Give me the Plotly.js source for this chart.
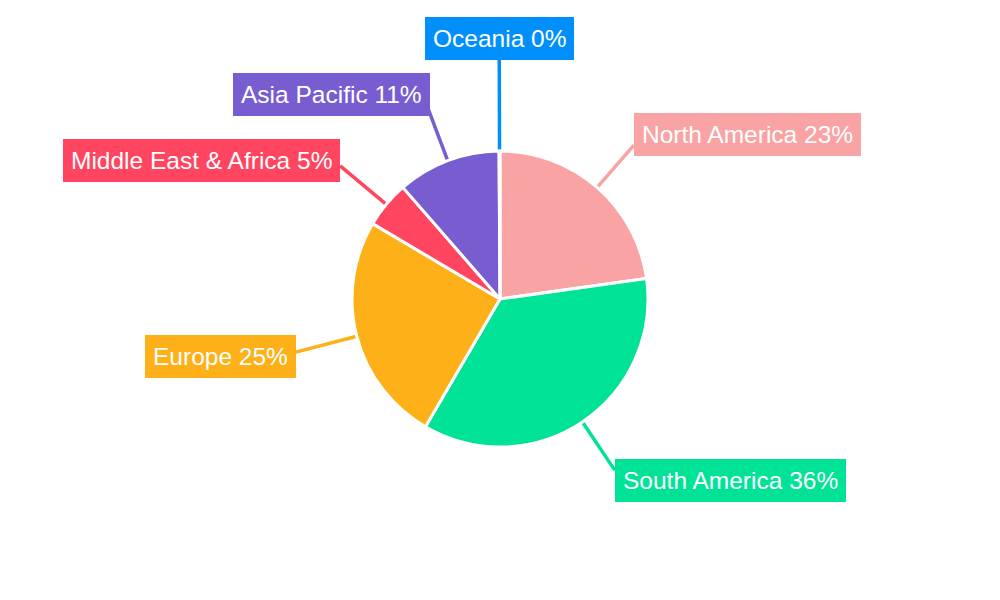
<!DOCTYPE html>
<html>
<head>
<meta charset="utf-8">
<script src="https://cdn.plot.ly/plotly-3.0.1.min.js"></script>
<style>html,body{margin:0;padding:0;background:#fff;}#chart{width:1000px;height:600px;}</style>
</head>
<body>
<div id="chart"></div>
<script>
// ---- data ----
var regions = ["North America", "South America", "Europe", "Middle East & Africa", "Asia Pacific", "Oceania"];
var shares = [22.8, 35.6, 25.1, 5.1, 11.3, 0.1];
var colors = ["#F9A3A4", "#00E396", "#FEB019", "#FF4560", "#775DD0", "#008FFB"];

// ---- label layout (pixels) ----
var lineLen = [56, 58, 63, 60, 60, 91];
var boxShiftX = [0, 0, 0, 0, 4, 0];
var boxShiftY = [-11, 10, 4, -5, -10, 0];

var W = 1000, H = 600, M = {t: 151, b: 153, l: 0, r: 0};
var plotH = H - M.t - M.b, plotW = W - M.l - M.r;
var cx = M.l + plotW / 2, cy = M.t + plotH / 2, R = Math.min(plotW, plotH) / 2;
function px2x(px) { return (px - M.l) / plotW; }
function py2y(py) { return (M.t + plotH - py) / plotH; }

var total = shares.reduce(function (a, b) { return a + b; }, 0);
var annotations = [], shapes = [];
var cum = 0;
for (var i = 0; i < regions.length; i++) {
  var mid = (cum + shares[i] / 2) / total * 2 * Math.PI;
  cum += shares[i];
  var sx = Math.sin(mid), sy = -Math.cos(mid);
  var tipX = cx + R * sx, tipY = cy + R * sy;
  var endX = cx + (R + lineLen[i]) * sx, endY = cy + (R + lineLen[i]) * sy;
  shapes.push({
    type: "line", xref: "paper", yref: "paper",
    x0: px2x(tipX), y0: py2y(tipY), x1: px2x(endX), y1: py2y(endY),
    line: {color: colors[i], width: 3.5}, layer: "below"
  });
  var xa = "center", ya = "middle";
  if (sx > 0.1) xa = "left"; else if (sx < -0.1) xa = "right"; else ya = "bottom";
  var pct = Math.round(shares[i] / total * 100);
  annotations.push({
    xref: "paper", yref: "paper",
    x: px2x(endX + boxShiftX[i]), y: py2y(endY + boxShiftY[i]),
    xanchor: xa, yanchor: ya,
    text: regions[i] + " " + pct + "%",
    showarrow: false,
    bgcolor: colors[i], borderpad: 8, borderwidth: 0,
    font: {family: "Liberation Sans, Arial, sans-serif", size: 24.5, color: "#ffffff"}
  });
}

var trace = {
  type: "pie",
  labels: regions,
  values: shares,
  sort: false,
  direction: "clockwise",
  rotation: 0,
  textinfo: "none",
  hoverinfo: "skip",
  marker: {colors: colors, line: {color: "#ffffff", width: 3}},
  showlegend: false
};

Plotly.newPlot("chart", [trace], {
  width: W, height: H,
  margin: M,
  paper_bgcolor: "#ffffff",
  showlegend: false,
  annotations: annotations,
  shapes: shapes
}, {displayModeBar: false, staticPlot: true});
</script>
</body>
</html>
